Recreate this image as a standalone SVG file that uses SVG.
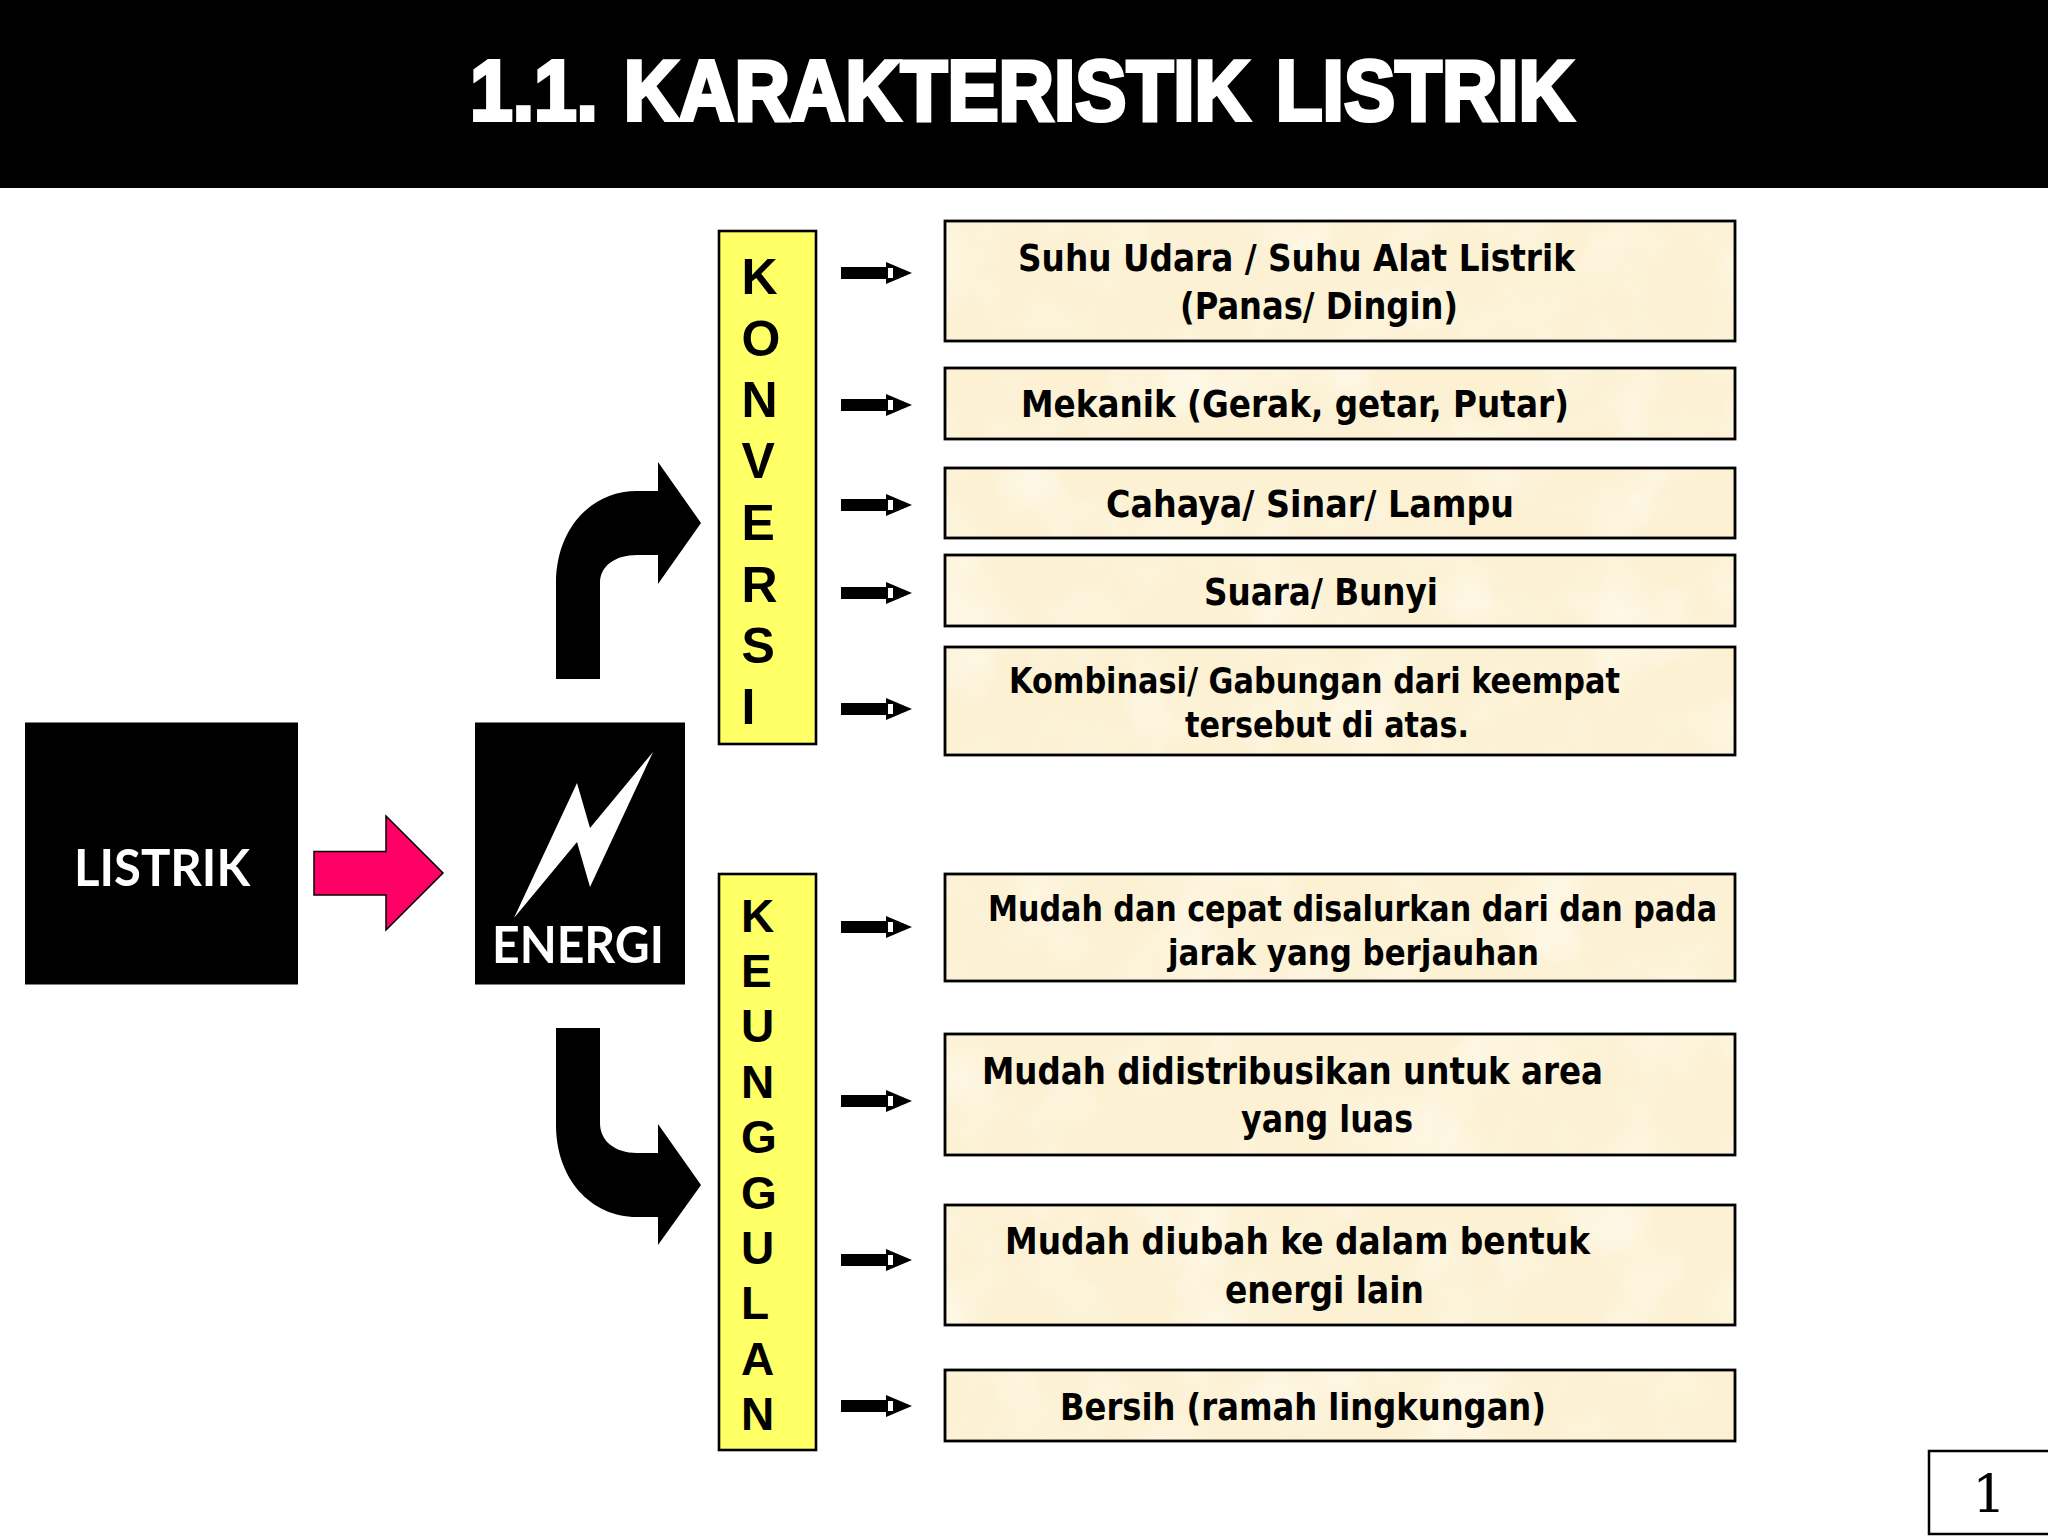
<svg xmlns="http://www.w3.org/2000/svg" width="2048" height="1536" viewBox="0 0 2048 1536">
<style>
.box{fill:#fcf1d3;stroke:#000;stroke-width:2.8}
.tex{filter:url(#parch);stroke:none}
.t{font-family:"DejaVu Sans",sans-serif;font-weight:700;font-size:38px;fill:#000}
.s{font-size:36px}
.y{fill:#ffff66;stroke:#000;stroke-width:2.6}
.l{font-family:"Liberation Sans",Arial,sans-serif;font-weight:700;fill:#000}
.l1{font-size:50px}.l2{font-size:46px}
.w{font-family:"Lato","Noto Sans",sans-serif;font-weight:700;font-size:52px;fill:#fff}
.h{font-family:"Liberation Sans",Arial,sans-serif;font-weight:700;font-size:86px;fill:#fff;stroke:#fff;stroke-width:4;font-kerning:none;word-spacing:5px}
</style>
<defs>
<filter id="parch" x="0" y="0" width="100%" height="100%">
<feTurbulence type="fractalNoise" baseFrequency="0.012" numOctaves="3" seed="4"/>
<feColorMatrix values="0 0 0 0 0.996  0 0 0 0 0.965  0 0 0 0 0.87  1.6 0 0 0 -0.72"/>
<feComposite in2="SourceGraphic" operator="in"/>
<feMerge><feMergeNode in="SourceGraphic"/><feMergeNode/></feMerge>
</filter>
<g id="sa"><path d="M841 267H886V262L912 273L886 284V279H841Z" fill="#000"/><rect x="888" y="268" width="5" height="10" fill="#fff"/></g>
</defs>
<rect width="2048" height="1536" fill="#fff"/>
<g id="title"><rect width="2048" height="188" fill="#000"/>
<text class="h" x="470" y="120" textLength="1104" lengthAdjust="spacingAndGlyphs">1.1. KARAKTERISTIK LISTRIK</text></g>

<g id="listrik"><rect x="25" y="722.500" width="273" height="262" fill="#000"/>
<text class="w" x="74" y="886" textLength="176" lengthAdjust="spacingAndGlyphs">LISTRIK</text></g>
<g id="energi"><rect x="475" y="722.500" width="210" height="262" fill="#000"/>
<path d="M653 752L590 828L577 783L514 918L577 842L590 887Z" fill="#fff"/>
<text class="w" x="492" y="963" textLength="172" lengthAdjust="spacingAndGlyphs">ENERGI</text></g>

<g id="connectors">
<path id="pink" d="M314 851.500H386V816L443 873L386 930V895H314Z" fill="#ff0066" stroke="#000" stroke-width="1.500"/>
<path d="M556 679V583C556 530 590 491 637 491H658V462L701 523L658 584V555H637C615 555 600 566 600 583V679Z" fill="#000"/>
<path d="M556 1028V1125C556 1178 590 1217 637 1217H658V1245L701 1185L658 1124V1153H637C615 1153 600 1141 600 1123V1028Z" fill="#000"/>
<use href="#sa"/>
<use href="#sa" y="132"/>
<use href="#sa" y="232"/>
<use href="#sa" y="320"/>
<use href="#sa" y="436"/>
<use href="#sa" y="654"/>
<use href="#sa" y="828"/>
<use href="#sa" y="987"/>
<use href="#sa" y="1133"/>
</g>

<g id="konversi"><rect class="y" x="719" y="231" width="97" height="513"/>
<g class="l l1"><text x="741.500" y="294">K</text><text x="741.500" y="355.500">O</text><text x="741.500" y="417">N</text><text x="741.500" y="478">V</text><text x="741.500" y="540">E</text><text x="741.500" y="602">R</text><text x="741.500" y="663">S</text><text x="741.500" y="724">I</text></g></g>
<g id="keunggulan"><rect class="y" x="719" y="874" width="97" height="576"/>
<g class="l l2"><text x="741" y="931.500">K</text><text x="741" y="987">E</text><text x="741" y="1042">U</text><text x="741" y="1098">N</text><text x="741" y="1153">G</text><text x="741" y="1209">G</text><text x="741" y="1264">U</text><text x="741" y="1319">L</text><text x="741" y="1374.500">A</text><text x="741" y="1430">N</text></g></g>

<g id="n1"><rect class="box" x="945" y="221" width="790" height="120"/><rect class="box tex" x="947" y="223" width="786" height="116"/>
<text class="t" x="1018" y="271" textLength="557" lengthAdjust="spacingAndGlyphs">Suhu Udara / Suhu Alat Listrik</text>
<text class="t" x="1180" y="319" textLength="278" lengthAdjust="spacingAndGlyphs">(Panas/ Dingin)</text></g>
<g id="n2"><rect class="box" x="945" y="368" width="790" height="71"/><rect class="box tex" x="947" y="370" width="786" height="67"/>
<text class="t" x="1021" y="417" textLength="548" lengthAdjust="spacingAndGlyphs">Mekanik (Gerak, getar, Putar)</text></g>
<g id="n3"><rect class="box" x="945" y="468" width="790" height="70"/><rect class="box tex" x="947" y="470" width="786" height="66"/>
<text class="t" x="1106" y="517" textLength="408" lengthAdjust="spacingAndGlyphs">Cahaya/ Sinar/ Lampu</text></g>
<g id="n4"><rect class="box" x="945" y="555" width="790" height="71"/><rect class="box tex" x="947" y="557" width="786" height="67"/>
<text class="t" x="1204" y="605" textLength="234" lengthAdjust="spacingAndGlyphs">Suara/ Bunyi</text></g>
<g id="n5"><rect class="box" x="945" y="647" width="790" height="108"/><rect class="box tex" x="947" y="649" width="786" height="104"/>
<text class="t s" x="1009" y="693" textLength="611" lengthAdjust="spacingAndGlyphs">Kombinasi/ Gabungan dari keempat</text>
<text class="t s" x="1185" y="737" textLength="284" lengthAdjust="spacingAndGlyphs">tersebut di atas.</text></g>
<g id="n6"><rect class="box" x="945" y="874" width="790" height="107"/><rect class="box tex" x="947" y="876" width="786" height="103"/>
<text class="t s" x="988" y="921" textLength="729" lengthAdjust="spacingAndGlyphs">Mudah dan cepat disalurkan dari dan pada</text>
<text class="t s" x="1168" y="965" textLength="371" lengthAdjust="spacingAndGlyphs">jarak yang berjauhan</text></g>
<g id="n7"><rect class="box" x="945" y="1034" width="790" height="121"/><rect class="box tex" x="947" y="1036" width="786" height="117"/>
<text class="t" x="982" y="1084" textLength="621" lengthAdjust="spacingAndGlyphs">Mudah didistribusikan untuk area</text>
<text class="t" x="1241" y="1132" textLength="172" lengthAdjust="spacingAndGlyphs">yang luas</text></g>
<g id="n8"><rect class="box" x="945" y="1205" width="790" height="120"/><rect class="box tex" x="947" y="1207" width="786" height="116"/>
<text class="t" x="1005" y="1254" textLength="585" lengthAdjust="spacingAndGlyphs">Mudah diubah ke dalam bentuk</text>
<text class="t" x="1225" y="1303" textLength="199" lengthAdjust="spacingAndGlyphs">energi lain</text></g>
<g id="n9"><rect class="box" x="945" y="1370" width="790" height="71"/><rect class="box tex" x="947" y="1372" width="786" height="67"/>
<text class="t" x="1060" y="1420" textLength="486" lengthAdjust="spacingAndGlyphs">Bersih (ramah lingkungan)</text></g>

<g id="page"><rect x="1929" y="1451" width="121" height="83" fill="#fff" stroke="#000" stroke-width="2.500"/>
<text x="1989" y="1512" text-anchor="middle" font-family="DejaVu Serif" font-size="53" fill="#000">1</text></g>
</svg>
